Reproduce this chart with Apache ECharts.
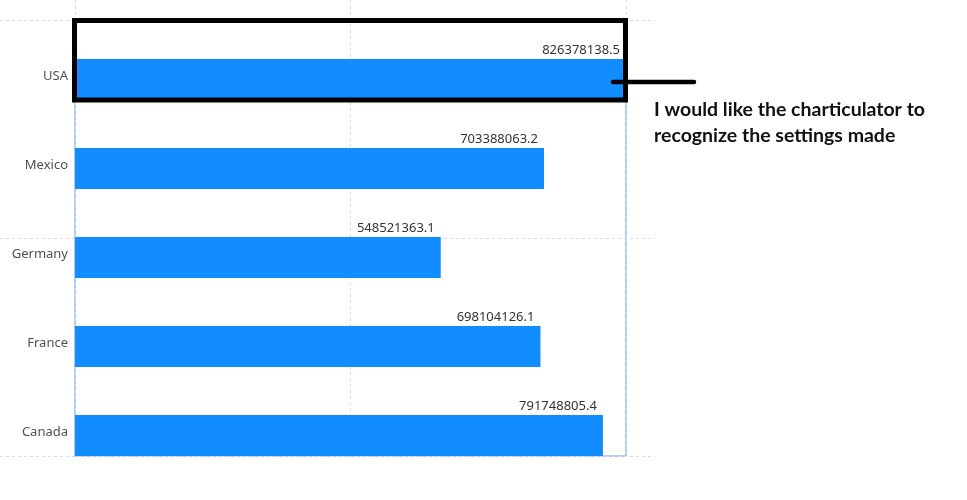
<!DOCTYPE html>
<html>
<head>
<meta charset="utf-8">
<script src="https://cdn.jsdelivr.net/npm/echarts@6/dist/echarts.min.js"></script>
<style>
html,body{margin:0;padding:0;background:#fff;}
#chart{width:967px;height:500px;}
</style>
</head>
<body>
<div id="chart"></div>
<script>
const categories = ['USA', 'Mexico', 'Germany', 'France', 'Canada'];
const values = [826378138.5, 703388063.2, 548521363.1, 698104126.1, 791748805.4];
const annotationLines = ['I would like the charticulator to', 'recognize the settings made'];

const axisMax = Math.max.apply(null, values);

const chart = echarts.init(document.getElementById('chart'), null, {renderer: 'canvas'});
const dashed = {show: true, lineStyle: {color: '#dcdcdc', type: [3, 3], width: 1}};

chart.setOption({
  animation: false,
  backgroundColor: '#ffffff',
  grid: [
    {left: 0, right: 312, top: 20, bottom: 44},
    {left: 75, right: 341, top: 0, bottom: 44},
    {left: 75, right: 341, top: 20, bottom: 44, show: true, borderColor: '#5a9be8', borderWidth: 1, backgroundColor: 'transparent'},
    {left: 75, right: 341, top: 35, bottom: 20}
  ],
  xAxis: [
    {gridIndex: 0, type: 'value', show: false},
    {gridIndex: 1, type: 'value', min: 0, max: axisMax, interval: axisMax / 2,
      axisLine: {show: false}, axisTick: {show: false}, axisLabel: {show: false}, splitLine: dashed},
    {gridIndex: 2, type: 'value', show: false},
    {gridIndex: 3, type: 'value', min: 0, max: axisMax,
      axisLine: {show: false}, axisTick: {show: false}, axisLabel: {show: false}, splitLine: {show: false}}
  ],
  yAxis: [
    {gridIndex: 0, type: 'value', min: 0, max: 2, interval: 1,
      axisLine: {show: false}, axisTick: {show: false}, axisLabel: {show: false}, splitLine: dashed},
    {gridIndex: 1, type: 'value', show: false},
    {gridIndex: 2, type: 'value', show: false},
    {gridIndex: 3, type: 'category', data: categories, inverse: true,
      axisLine: {show: false}, axisTick: {show: false}, splitLine: {show: false},
      axisLabel: {color: '#505050', fontSize: 13, fontFamily: 'Noto Sans', margin: 7,
        verticalAlign: 'bottom', lineHeight: 6}}
  ],
  series: [
    {
      type: 'bar',
      xAxisIndex: 3,
      yAxisIndex: 3,
      data: values,
      barWidth: 41,
      itemStyle: {color: '#118DFF'},
      label: {
        show: true,
        position: ['100%', 0],
        align: 'right',
        verticalAlign: 'bottom',
        offset: [-6, -2],
        color: '#333333',
        fontSize: 13,
        fontFamily: 'Noto Sans'
      }
    }
  ],
  graphic: [
    {type: 'rect', z: 100, shape: {x: 74.5, y: 20.5, width: 551, height: 79.5},
      style: {fill: 'none', stroke: '#000000', lineWidth: 5}},
    {type: 'line', z: 100, shape: {x1: 613, y1: 82, x2: 694, y2: 82},
      style: {stroke: '#000000', lineWidth: 4.5, lineCap: 'round'}},
    {type: 'text', z: 100, left: 654, top: 96,
      style: {text: annotationLines.join('\n'), fill: '#111111', font: 'bold 19.5px Lato', lineHeight: 26.5}}
  ]
});
</script>
</body>
</html>
